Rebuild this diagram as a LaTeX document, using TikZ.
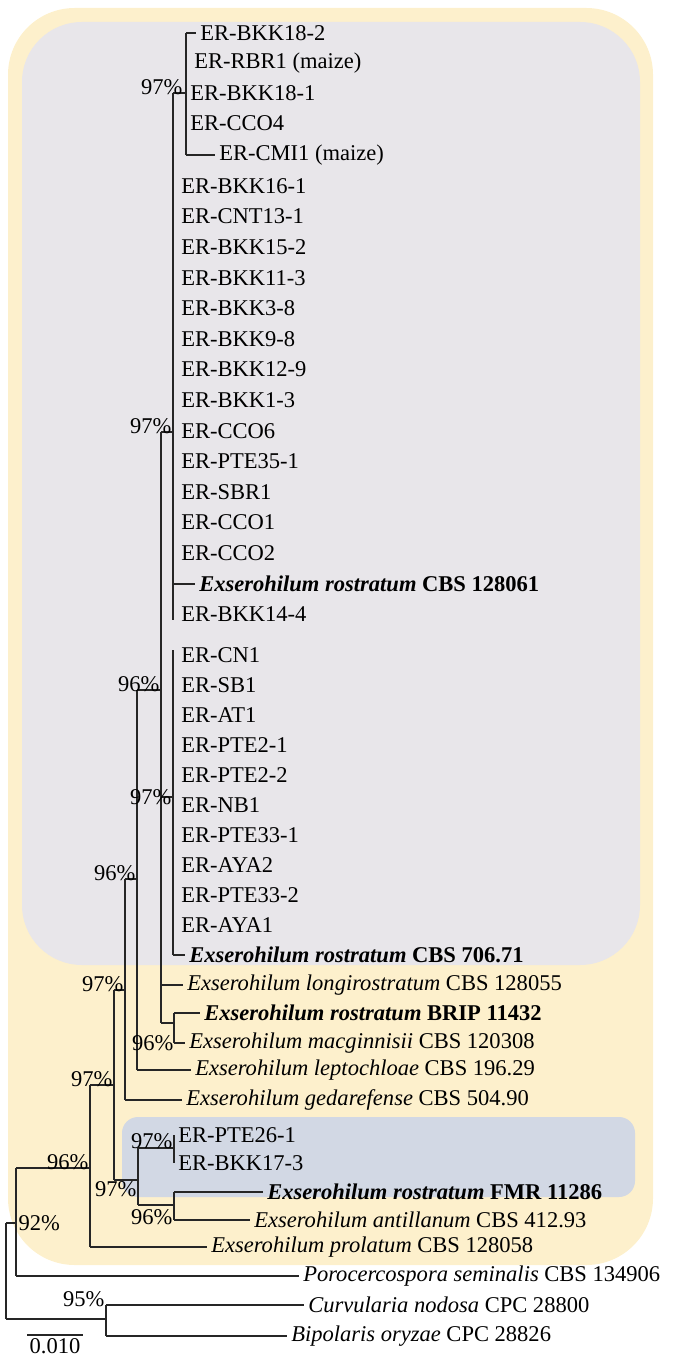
\documentclass[tikz,border=0pt]{standalone}
\usepackage{fontspec}
\setmainfont{Liberation Serif}
\definecolor{yel}{HTML}{FDF0CC}
\definecolor{gry}{HTML}{E8E6EA}
\definecolor{blu}{HTML}{D2D8E4}
\begin{document}
\begin{tikzpicture}[x=0.75pt,y=-0.75pt,
  leaf/.style={anchor=west,inner sep=3pt,font=\fontsize{16.9}{19}\selectfont},
  bs/.style={anchor=south east,inner sep=1pt,font=\fontsize{16.9}{19}\selectfont},
  br/.style={line width=0.9pt,black!85}]
\useasboundingbox (0,0) rectangle (685,1362);
\fill[yel,rounded corners=50] (8,8) rectangle (653,1265);
\fill[gry,rounded corners=45] (22,22) rectangle (640,965);
\fill[blu,rounded corners=12] (122,1117) rectangle (635,1197);
% subclade
\coordinate (s1) at (186,33); \coordinate (s2) at (186,155); \coordinate (sm) at (186,93);
\coordinate (e0) at (196,33); \coordinate (e1) at (190,63); \coordinate (e2) at (186,93);
\coordinate (e3) at (186,123); \coordinate (e4) at (215,155);
\node[leaf] (l0) at (e0) {ER-BKK18-2};
\node[leaf] (l1) at (e1) {ER-RBR1 (maize)};
\node[leaf] (l2) at (e2) {ER-BKK18-1};
\node[leaf] (l3) at (e3) {ER-CCO4};
\node[leaf] (l4) at (e4) {ER-CMI1 (maize)};
\draw[br] (s1) -- (s2); \draw[br] (s1) -- (e0); \draw[br] (186,155) -- (e4);
% clade A
\coordinate (a1) at (173,93); \coordinate (a2) at (173,620); \coordinate (am) at (173,432);
\draw[br] (a1) -- (a2); \draw[br] (a1) -- (sm);
\foreach \t [count=\i from 5] in {ER-BKK16-1,ER-CNT13-1,ER-BKK15-2,ER-BKK11-3,ER-BKK3-8,ER-BKK9-8,ER-BKK12-9,ER-BKK1-3,ER-CCO6,ER-PTE35-1,ER-SBR1,ER-CCO1,ER-CCO2}
  \node[leaf] (l\i) at (177,{33+30.6*\i}) {\t};
\coordinate (e18) at (195,584);
\node[leaf] (l18) at (e18) {\textbf{\textit{Exserohilum rostratum} CBS 128061}};
\draw[br] (173,584) -- (e18);
\node[leaf] (l19) at (177,614) {ER-BKK14-4};
% clade B
\coordinate (b1) at (173,650); \coordinate (b2) at (173,955); \coordinate (bm) at (173,797);
\draw[br] (b1) -- (b2);
\foreach \t [count=\j from 0] in {ER-CN1,ER-SB1,ER-AT1,ER-PTE2-1,ER-PTE2-2,ER-NB1,ER-PTE33-1,ER-AYA2,ER-PTE33-2,ER-AYA1}
  \node[leaf] (m\j) at (177,{655+30*\j}) {\t};
\coordinate (e30) at (185,955);
\node[leaf] (l30) at (e30) {\textbf{\textit{Exserohilum rostratum} CBS 706.71}};
\draw[br] (b2) -- (e30);
% clade C
\coordinate (c1) at (161,432); \coordinate (c2) at (161,1023); \coordinate (cm) at (161,690);
\draw[br] (c1) -- (c2); \draw[br] (c1) -- (am); \draw[br] (161,797) -- (bm);
\coordinate (e31) at (183,985);
\node[leaf] (l31) at (e31) {\textit{Exserohilum longirostratum} CBS 128055};
\draw[br] (161,985) -- (e31);
\coordinate (k1) at (174,1013); \coordinate (k2) at (174,1043); \coordinate (km) at (174,1023);
\draw[br] (k1) -- (k2); \draw[br] (c2) -- (km);
\coordinate (e32) at (200,1013); \coordinate (e33) at (185,1043);
\node[leaf] (l32) at (e32) {\textbf{\textit{Exserohilum rostratum} BRIP 11432}};
\node[leaf] (l33) at (e33) {\textit{Exserohilum macginnisii} CBS 120308};
\draw[br] (k1) -- (e32); \draw[br] (k2) -- (e33);
% D
\coordinate (d1) at (137,690); \coordinate (d2) at (137,1070); \coordinate (dm) at (137,879);
\draw[br] (d1) -- (d2); \draw[br] (d1) -- (cm);
\coordinate (e34) at (191,1070);
\node[leaf] (l34) at (e34) {\textit{Exserohilum leptochloae} CBS 196.29};
\draw[br] (d2) -- (e34);
% E
\coordinate (f1) at (125,879); \coordinate (f2) at (125,1100); \coordinate (fm) at (125,990);
\draw[br] (f1) -- (f2); \draw[br] (f1) -- (dm);
\coordinate (e35) at (182,1100);
\node[leaf] (l35) at (e35) {\textit{Exserohilum gedarefense} CBS 504.90};
\draw[br] (f2) -- (e35);
% F
\coordinate (g1) at (114,990); \coordinate (g2) at (114,1180); \coordinate (gm) at (114,1085);
\draw[br] (g1) -- (g2); \draw[br] (g1) -- (fm);
% G
\coordinate (h1) at (138,1148); \coordinate (h2) at (138,1205); \coordinate (hm) at (138,1180);
\draw[br] (h1) -- (h2); \draw[br] (g2) -- (hm);
\coordinate (p1) at (174,1135); \coordinate (p2) at (174,1163); \coordinate (pm) at (174,1148);
\draw[br] (p1) -- (p2); \draw[br] (h1) -- (pm);
\node[leaf] (l36) at (p1) {ER-PTE26-1};
\node[leaf] (l37) at (p2) {ER-BKK17-3};
\coordinate (q1) at (174,1192); \coordinate (q2) at (174,1220); \coordinate (qm) at (174,1205);
\draw[br] (q1) -- (q2); \draw[br] (h2) -- (qm);
\coordinate (e38) at (263,1192); \coordinate (e39) at (250,1220);
\node[leaf] (l38) at (e38) {\textbf{\textit{Exserohilum rostratum} FMR 11286}};
\node[leaf] (l39) at (e39) {\textit{Exserohilum antillanum} CBS 412.93};
\draw[br] (q1) -- (e38); \draw[br] (q2) -- (e39);
% H
\coordinate (i1) at (90,1085); \coordinate (i2) at (90,1247); \coordinate (im) at (90,1168);
\draw[br] (i1) -- (i2); \draw[br] (i1) -- (gm);
\coordinate (e40) at (207,1247);
\node[leaf] (l40) at (e40) {\textit{Exserohilum prolatum} CBS 128058};
\draw[br] (i2) -- (e40);
% I
\coordinate (j1) at (16,1168); \coordinate (j2) at (16,1276); \coordinate (jm) at (16,1223);
\draw[br] (j1) -- (j2); \draw[br] (j1) -- (im);
\coordinate (e41) at (299,1276);
\node[leaf] (l41) at (e41) {\textit{Porocercospora seminalis} CBS 134906};
\draw[br] (j2) -- (e41);
% root
\coordinate (r1) at (6,1223); \coordinate (r2) at (6,1319);
\draw[br] (r1) -- (r2); \draw[br] (r1) -- (jm);
\coordinate (o1) at (106,1305); \coordinate (o2) at (106,1336); \coordinate (om) at (106,1319);
\draw[br] (o1) -- (o2); \draw[br] (r2) -- (om);
\coordinate (e42) at (304,1305); \coordinate (e43) at (287,1336);
\node[leaf] (l42) at (e42) {\textit{Curvularia nodosa} CPC 28800};
\node[leaf] (l43) at (e43) {\textit{Bipolaris oryzae} CPC 28826};
\draw[br] (o1) -- (e42); \draw[br] (o2) -- (e43);
% bootstrap labels
\node[bs] (b97a) at (184,96) {97\%};
\node[bs] (b97b) at (173,435) {97\%};
\node[bs] (b96a) at (161,693) {96\%};
\node[bs] (b97c) at (173,806) {97\%};
\node[bs] (b96b) at (137,882) {96\%};
\node[bs] (b96c) at (175,1052) {96\%};
\node[bs] (b97d) at (125,993) {97\%};
\node[bs] (b97e) at (114,1088) {97\%};
\node[bs] (b97f) at (174,1150) {97\%};
\node[bs] (b97g) at (138,1198) {97\%};
\node[bs] (b96d) at (174,1226) {96\%};
\node[bs] (b96e) at (90,1171) {96\%};
\node[bs,anchor=west] (b92) at (17,1223) {92\%};
\node[bs] (b95) at (106,1308) {95\%};
% scale bar
\coordinate (sb1) at (27,1335); \coordinate (sb2) at (83,1335);
\draw[br] (sb1) -- (sb2);
\node[bs,anchor=north] (sbl) at (55,1337) {0.010};
\end{tikzpicture}
\end{document}
